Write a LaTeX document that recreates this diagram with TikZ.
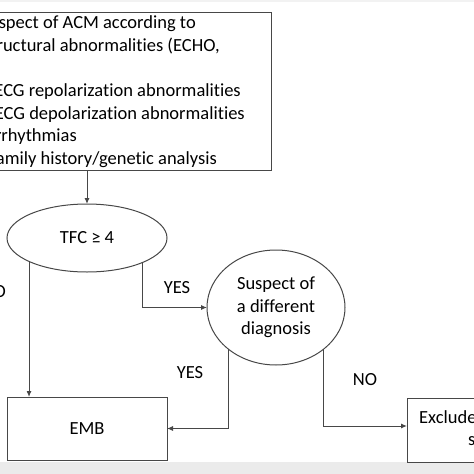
\documentclass[tikz,border=0pt]{standalone}
\usepackage{fontspec}
\setmainfont{Carlito}[Ligatures=CommonOff]
\usetikzlibrary{shapes.geometric,arrows.meta}
\begin{document}
\begin{tikzpicture}[x=1pt,y=-1pt,
  every node/.style={font=\fontsize{18.5}{22.6}\selectfont, text=black},
  box/.style={draw=black!72, line width=1pt, inner sep=0pt, outer sep=0pt},
  oval/.style={ellipse, draw=black!72, line width=1pt, inner sep=0pt, outer sep=0pt},
  arr/.style={draw=black!72, line width=1pt, -{Latex[length=6pt,width=5pt]}},
  lbl/.style={inner sep=0pt}]
\useasboundingbox (0,0) rectangle (474,474);
\fill[black!8] (0,462) rectangle (474,474);
\fill[black!5] (0,0) rectangle (474,2);
% top box
\node[box, minimum width=291pt, minimum height=158pt] (top) at (125.5,91) {};
\node[lbl, anchor=base east] (l1) at (196,28.5) {Suspect of ACM according to};
\node[lbl, anchor=base east] (l2) at (220,51) {Structural abnormalities (ECHO,};
\node[lbl, anchor=base east] (l4) at (241,96.5) {ECG repolarization abnormalities};
\node[lbl, anchor=base east] (l5) at (245,119) {ECG depolarization abnormalities};
\node[lbl, anchor=base east] (l6) at (77,141.5) {Arrhythmias};
\node[lbl, anchor=base east] (l7) at (217,164) {Family history/genetic analysis};
% shapes
\node[oval, minimum width=160pt, minimum height=68pt] (tfc) at (87,238) {TFC ≥ 4};
\node[oval, minimum width=138pt, minimum height=115pt, align=center] (sus) at (276,307.5) {Suspect of\\a different\\diagnosis};
\node[box, minimum width=160pt, minimum height=63pt] (emb) at (87,428.5) {EMB};
\node[box, minimum width=113pt, minimum height=64pt] (exc) at (463.5,430) {};
\node[lbl, anchor=base west] (ex1) at (419,423) {Exclude};
\node[lbl, anchor=base west] (ex2) at (468,445) {s};
% labels
\node[lbl, anchor=east] (no1) at (6,292) {NO};
\node[lbl] (yes1) at (177,288) {YES};
\node[lbl] (yes2) at (190,373) {YES};
\node[lbl] (no2) at (365,380) {NO};
% connectors
\draw[arr] (tfc.north |- top.south) -- (tfc.north);
\draw[arr] (tfc.202) -- (tfc.202 |- emb.north);
\draw[arr] (tfc.336) |- (sus.west);
\draw[arr] (sus.221) |- (emb.east);
\draw[arr] (sus.319) |- ([yshift=4pt]exc.west);
\end{tikzpicture}
\end{document}
